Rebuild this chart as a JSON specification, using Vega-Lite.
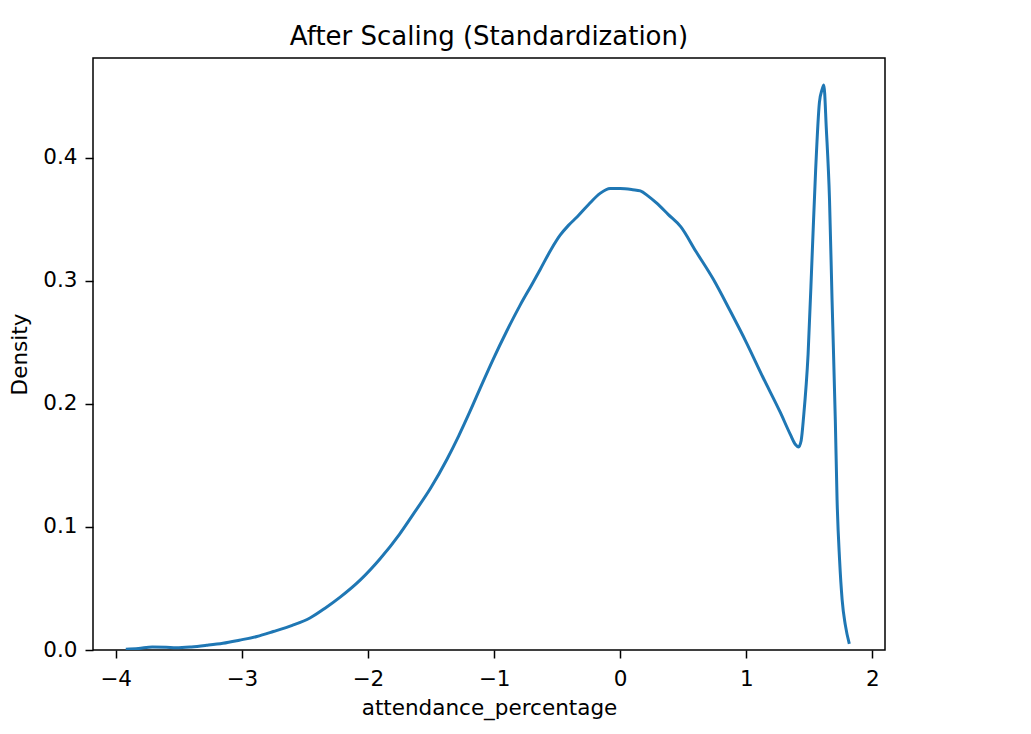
{
  "$schema": "https://vega.github.io/schema/vega-lite/v6.json",
  "autosize": "none",
  "width": 792,
  "height": 592,
  "padding": {"left": 93, "top": 58, "right": 146, "bottom": 84},
  "background": "white",
  "config": {
    "font": "DejaVu Sans",
    "view": {"stroke": "#000000", "strokeWidth": 1.5},
    "axis": {
      "domain": false,
      "grid": false,
      "tickColor": "#000000",
      "tickSize": 8,
      "tickWidth": 1.5,
      "labelColor": "#000000",
      "labelFont": "DejaVu Sans",
      "labelFontSize": 21.5,
      "titleColor": "#000000",
      "titleFont": "DejaVu Sans",
      "titleFontSize": 21.5,
      "titleFontWeight": "normal"
    }
  },
  "title": {
    "text": "After Scaling (Standardization)",
    "font": "DejaVu Sans",
    "fontSize": 26,
    "fontWeight": "normal",
    "color": "#000000",
    "offset": 8
  },
  "data": {
    "values": [
      {"x": -3.92, "density": 0.0006},
      {"x": -3.82, "density": 0.0012},
      {"x": -3.71, "density": 0.0024},
      {"x": -3.6, "density": 0.0022},
      {"x": -3.52, "density": 0.0018},
      {"x": -3.4, "density": 0.0025},
      {"x": -3.28, "density": 0.0038},
      {"x": -3.15, "density": 0.0055},
      {"x": -3.02, "density": 0.008},
      {"x": -2.88, "density": 0.011},
      {"x": -2.75, "density": 0.015},
      {"x": -2.6, "density": 0.02},
      {"x": -2.46, "density": 0.026},
      {"x": -2.34, "density": 0.034},
      {"x": -2.22, "density": 0.043},
      {"x": -2.06, "density": 0.057},
      {"x": -1.905, "density": 0.074},
      {"x": -1.75, "density": 0.094},
      {"x": -1.643, "density": 0.11},
      {"x": -1.5, "density": 0.132},
      {"x": -1.373, "density": 0.155},
      {"x": -1.28, "density": 0.174},
      {"x": -1.19, "density": 0.194},
      {"x": -1.1, "density": 0.215},
      {"x": -1.008, "density": 0.236},
      {"x": -0.9, "density": 0.259},
      {"x": -0.794, "density": 0.28},
      {"x": -0.7, "density": 0.297},
      {"x": -0.635, "density": 0.309},
      {"x": -0.55, "density": 0.325},
      {"x": -0.476, "density": 0.337},
      {"x": -0.41, "density": 0.345},
      {"x": -0.34, "density": 0.352},
      {"x": -0.25, "density": 0.362},
      {"x": -0.159, "density": 0.371},
      {"x": -0.08, "density": 0.375},
      {"x": 0.0, "density": 0.375},
      {"x": 0.1, "density": 0.374},
      {"x": 0.16, "density": 0.373},
      {"x": 0.22, "density": 0.369},
      {"x": 0.29, "density": 0.363},
      {"x": 0.38, "density": 0.354},
      {"x": 0.48, "density": 0.344},
      {"x": 0.6, "density": 0.324},
      {"x": 0.74, "density": 0.301},
      {"x": 0.87, "density": 0.276},
      {"x": 1.0, "density": 0.25},
      {"x": 1.13, "density": 0.222},
      {"x": 1.27, "density": 0.193},
      {"x": 1.35, "density": 0.175},
      {"x": 1.39, "density": 0.167},
      {"x": 1.415, "density": 0.165},
      {"x": 1.435, "density": 0.17},
      {"x": 1.455, "density": 0.19},
      {"x": 1.49, "density": 0.24},
      {"x": 1.524, "density": 0.325},
      {"x": 1.55, "density": 0.39},
      {"x": 1.58, "density": 0.445},
      {"x": 1.6, "density": 0.455},
      {"x": 1.615, "density": 0.459},
      {"x": 1.635, "density": 0.423},
      {"x": 1.66, "density": 0.366},
      {"x": 1.68, "density": 0.285},
      {"x": 1.706, "density": 0.187},
      {"x": 1.72, "density": 0.122},
      {"x": 1.74, "density": 0.073},
      {"x": 1.76, "density": 0.041},
      {"x": 1.786, "density": 0.02},
      {"x": 1.817, "density": 0.005}
    ]
  },
  "mark": {"type": "line", "color": "#1f77b4", "strokeWidth": 3, "interpolate": "monotone", "clip": true},
  "encoding": {
    "x": {
      "field": "x",
      "type": "quantitative",
      "scale": {"domain": [-4.18, 2.1], "nice": false, "zero": false},
      "axis": {"title": "attendance_percentage", "values": [-4, -3, -2, -1, 0, 1, 2], "format": "d", "labelPadding": 10, "titlePadding": 8}
    },
    "y": {
      "field": "density",
      "type": "quantitative",
      "scale": {"domain": [0, 0.481], "nice": false},
      "axis": {"title": "Density", "values": [0, 0.1, 0.2, 0.3, 0.4], "format": ".1f", "labelPadding": 8, "titlePadding": 11}
    }
  }
}
